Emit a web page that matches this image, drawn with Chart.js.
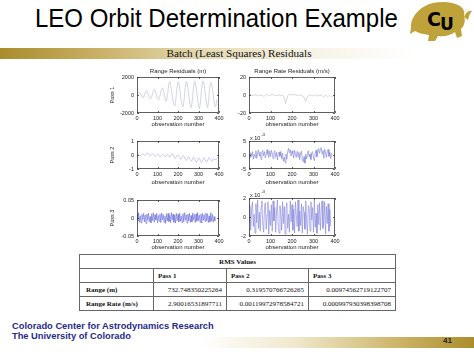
<!DOCTYPE html>
<html><head><meta charset="utf-8">
<script src="https://cdn.jsdelivr.net/npm/chart.js@4"></script>
<style>
body{margin:0;background:#fff;}
#slide{position:relative;width:474px;height:355px;overflow:hidden;background:#fff;font-family:"Liberation Sans",Arial,sans-serif;}
#title{position:absolute;left:35px;top:5px;font-size:24px;line-height:24px;white-space:nowrap;color:#000;transform-origin:0 0;transform:scaleY(1.1);}
#bar{position:absolute;left:0;top:48px;width:415px;height:11px;background:linear-gradient(to right,#a98c2c 0%,#c6ad62 22%,#e4d9b0 48%,#f6f2e4 74%,#ffffff 100%);}
#barText{position:absolute;left:0;width:474px;top:46px;text-align:center;font-family:"Liberation Serif","Times New Roman",serif;font-size:11.2px;line-height:14px;color:#111;padding-left:4px;box-sizing:border-box;}
#logo{position:absolute;left:405px;top:0;width:69px;height:45px;}
canvas{position:absolute;}
#rms{position:absolute;left:79px;top:254px;width:317px;border-collapse:collapse;font-family:"Liberation Serif","Times New Roman",serif;font-size:7px;color:#111;}
#rms td,#rms th{border:1px solid #666;height:13px;padding:0 4px;line-height:8px;white-space:nowrap;}
#rms td{text-align:right;font-weight:normal;}
#rms th{text-align:left;font-weight:bold;}
#rms th.c{text-align:center;}
#foot1,#foot2{position:absolute;left:12px;font-size:9.3px;font-weight:bold;line-height:10px;color:#1f2a8a;white-space:nowrap;}
#foot1{top:321px;}
#foot2{top:331px;}
#bar2{position:absolute;left:200px;top:337px;width:274px;height:11px;background:linear-gradient(to right,#ffffff 0%,#f0e8cc 35%,#cfb86e 70%,#ab8d2c 100%);}
#pnum{position:absolute;left:443px;top:336px;font-size:8px;font-weight:bold;line-height:9px;color:#222;}
</style></head><body>
<div id="slide">
  <div id="title">LEO Orbit Determination Example</div>
  <svg id="logo" viewBox="0 0 69 45">
    <path d="M6,24 C8,14 16,6 28,3 C38,1 48,2 55,6 C59,9 60,12 59,16 C61,21 59,26 56,29 L57,36 L52,38 L50,32 C46,35 40,37 33,36 L30,41 L23,41 L24,35 C18,34 13,33 10,31 L5,34 L6,28 Z" fill="#bfa23a"/>
    <path d="M59,17 C61,12 64,10 67,11 C65,13 64,16 63,20 Z" fill="#bfa23a"/>
    <text x="22" y="26" font-family="DejaVu Sans" font-weight="bold" font-size="19" fill="#000">C</text>
    <text x="35" y="30" font-family="DejaVu Sans" font-weight="bold" font-size="17" fill="#000">U</text>
  </svg>
  <div id="bar"></div>
  <div id="barText">Batch (Least Squares) Residuals</div>
  <canvas id="c1"></canvas><canvas id="c2"></canvas>
  <canvas id="c3"></canvas><canvas id="c4"></canvas>
  <canvas id="c5"></canvas><canvas id="c6"></canvas>
  <table id="rms"></table>
  <div id="foot1">Colorado Center for Astrodynamics Research</div>
  <div id="foot2">The University of Colorado</div>
  <div id="bar2"></div>
  <div id="pnum">41</div>
</div>
<script>
// ---- data ----
const obsTicks = [0, 100, 200, 300, 400];
const passLabels = ['Pass 1', 'Pass 2', 'Pass 3'];

// Pass 1 range residuals (m), every 5 observations
const pass1Range = [0,100,250,200,0,-250,-300,-100,250,500,400,100,-250,-450,-300,100,500,650,400,0,
  -400,-550,-300,200,650,800,400,-200,-700,-600,200,1300,1500,1000,200,-600,-1100,-1200,-400,800,
  1450,1200,400,-500,-1100,-1300,-500,800,1500,1300,500,-500,-1200,-1400,-600,700,1500,1400,600,-400,
  -1200,-1500,-700,700,1500,1500,700,-300,-1100,-1400,-400,900,1400,1100,300,-600,-1300,-1200,-500];
// Pass 1 range-rate residuals (m/s), every 5 observations
const pass1Rate = [0.3,0.5,0.2,-0.3,-0.5,-0.2,0.2,0.0,-0.6,-1.0,-0.5,0.0,-0.3,-1.2,-1.5,-0.6,0.2,0.4,0.0,-0.4,
  -0.2,0.3,0.5,0.1,-0.5,-0.8,-0.3,0.2,0.1,-0.4,-0.6,-0.3,-0.8,-3.5,-9.5,-5.5,-1.0,0.5,0.8,0.3,
  -0.2,0.2,0.6,0.3,-0.3,-0.6,-0.2,0.2,-0.2,-0.8,-1.0,-2.0,-5.0,-7.0,-3.0,-0.8,0.2,0.0,-0.5,-1.0,
  -0.6,0.1,0.3,-0.3,-1.0,-0.8,-0.2,0.0,-0.8,-2.0,-1.2,-0.4,-0.8,-1.8,-1.3,-0.6,-1.2,-2.0,-1.0];
// Pass 2 range residuals (m), every 5 observations
const pass2Range = [0.0,0.02,0.0,-0.05,-0.02,0.05,0.08,0.02,-0.05,0.05,0.15,0.1,-0.02,-0.05,0.05,0.1,0.05,-0.05,-0.1,0.0,
  0.05,0.02,-0.08,-0.1,0.0,0.05,-0.02,-0.12,-0.1,0.02,0.05,-0.05,-0.15,-0.05,0.1,0.05,-0.1,-0.25,-0.2,-0.05,
  0.0,-0.1,-0.25,-0.3,-0.15,-0.05,-0.1,-0.3,-0.4,-0.3,-0.1,-0.15,-0.35,-0.45,-0.35,-0.15,-0.2,-0.45,-0.55,-0.4,
  -0.2,-0.25,-0.45,-0.55,-0.4,-0.2,-0.25,-0.45,-0.5,-0.35,-0.2,-0.25,-0.4,-0.45,-0.3,-0.25,-0.35,-0.3,-0.3];
// Pass 2 range-rate residuals (x 10^-3 m/s), every 4 observations
const pass2Rate = [0.5,-1.0,0.8,-0.5,1.2,-1.5,0.3,-0.8,1.5,-1.2,0.6,1.8,-0.4,1.0,-1.6,0.9,1.6,-0.3,1.2,-1.0,
  0.4,1.9,0.2,-0.9,1.4,-0.6,1.7,0.5,-1.3,0.8,1.5,-0.7,0.9,-1.8,0.3,1.1,-0.5,1.3,-1.4,0.6,
  -2.2,-0.8,-2.8,0.4,-1.5,1.2,2.4,0.8,1.9,-0.4,1.5,0.6,-1.1,1.7,0.2,-0.9,1.3,-0.6,0.9,-1.7,
  0.8,1.4,-1.2,-2.5,-0.6,-2.9,0.3,-1.4,0.7,1.5,-0.8,0.4,-1.6,0.9,1.2,-1.0,-2.0,0.5,1.8,-0.7,
  1.1,2.3,0.6,1.9,2.7,0.4,1.6,-1.2,2.1,0.8,-0.9,1.4,2.0,-0.5,1.0,-1.3,0.6,0.2];
// Pass 3 range residuals (m), every 4 observations
const pass3Range = [0.012,-0.008,0.015,-0.012,0.006,-0.014,0.010,-0.004,0.013,-0.011,0.008,-0.015,0.011,-0.006,0.014,-0.010,0.004,-0.013,0.012,-0.007,
  0.015,-0.012,0.009,-0.005,0.013,-0.014,0.007,-0.009,0.011,-0.013,0.014,-0.006,0.010,-0.012,0.005,-0.015,0.012,-0.008,0.013,-0.010,
  0.007,-0.013,0.015,-0.005,0.011,-0.012,0.008,-0.014,0.013,-0.007,0.010,-0.011,0.014,-0.009,0.006,-0.013,0.012,-0.010,0.015,-0.006,
  0.009,-0.014,0.011,-0.008,0.013,-0.012,0.007,-0.011,0.014,-0.005,0.010,-0.013,0.012,-0.009,0.015,-0.007,0.008,-0.012,0.011,-0.014,
  0.013,-0.006,0.009,-0.010,0.014,-0.008,0.012,-0.013,0.006,-0.011,0.015,-0.009,0.010,-0.012,0.004,-0.008];
// Pass 3 range-rate residuals (x 10^-3 m/s), every 4 observations
const pass3Rate = [-0.5,1.2,-1.4,0.8,1.6,-1.0,0.3,-1.7,1.4,-0.6,1.8,-1.2,0.5,-1.5,1.1,1.7,-0.8,-1.6,0.9,1.5,
  -1.3,0.2,1.6,-1.8,0.7,-0.9,1.3,-1.5,1.7,-0.4,1.0,-1.6,0.6,1.8,-1.1,-1.7,1.2,0.4,-1.4,1.6,
  -0.7,1.1,-1.8,0.9,1.5,-1.2,0.3,-1.6,1.7,-0.5,1.3,-1.4,0.8,-1.7,1.6,0.2,-1.0,1.8,-1.5,0.6,
  -0.9,1.4,-1.7,1.1,0.5,-1.3,1.7,-0.6,-1.8,1.2,0.9,-1.5,1.6,-0.3,1.0,-1.6,1.8,-1.1,0.4,-1.7,
  1.3,-0.8,1.5,-1.4,0.7,1.7,-1.2,-0.5,1.6,-1.8,1.1,-0.7,1.4,-1.5,0.8,-1.0];

// RMS table
const rmsHeader = ['Pass 1', 'Pass 2', 'Pass 3'];
const rmsRowLabels = ['Range (m)', 'Range Rate (m/s)'];
const rmsRange = ['732.748350225264', '0.319570766726265', '0.00974562719122707'];
const rmsRate = ['2.90016531897711', '0.00119972978584721', '0.000997930398398708'];

// ---- table ----
(function(){
  const t = document.getElementById('rms');
  const cw = [74, 73, 82, 87];
  let h = '<colgroup>' + cw.map(w=>'<col style="width:'+w+'px">').join('') + '</colgroup>';
  h += '<tr><th class="c" colspan="4">RMS Values</th></tr>';
  h += '<tr><th></th>' + rmsHeader.map(s=>'<th>'+s+'</th>').join('') + '</tr>';
  [rmsRange, rmsRate].forEach((row,i)=>{
    h += '<tr><th style="padding-left:6px">'+rmsRowLabels[i]+'</th>' + row.map(s=>'<td>'+s+'</td>').join('') + '</tr>';
  });
  t.innerHTML = h;
})();

// ---- charts ----
const FONT = '"Liberation Sans", Arial, sans-serif';
const boxPlugin = {
  id: 'box',
  afterDatasetsDraw(chart, args, opts) {
    const {ctx, chartArea: a, scales} = chart;
    ctx.save();
    ctx.strokeStyle = '#3a3a3a';
    ctx.lineWidth = 0.8;
    ctx.strokeRect(a.left + 0.5, a.top + 0.5, a.right - a.left - 1, a.bottom - a.top - 1);
    ctx.beginPath();
    scales.x.ticks.forEach(t => {
      const px = Math.round(scales.x.getPixelForValue(t.value)) + 0.5;
      ctx.moveTo(px, a.bottom); ctx.lineTo(px, a.bottom - 2);
      ctx.moveTo(px, a.top); ctx.lineTo(px, a.top + 2);
    });
    scales.y.ticks.forEach(t => {
      const py = Math.round(scales.y.getPixelForValue(t.value)) + 0.5;
      ctx.moveTo(a.left, py); ctx.lineTo(a.left + 2, py);
      ctx.moveTo(a.right, py); ctx.lineTo(a.right - 2, py);
    });
    ctx.stroke();
    ctx.fillStyle = '#222';
    if (opts.title) {
      ctx.font = '6px ' + FONT;
      ctx.textAlign = 'center';
      ctx.textBaseline = 'middle';
      ctx.fillText(opts.title, (a.left + a.right) / 2, a.top - 6);
    }
    if (opts.exp) {
      ctx.font = '5.5px ' + FONT;
      ctx.textAlign = 'left';
      ctx.textBaseline = 'alphabetic';
      ctx.fillText('x 10', a.left + 1, a.top - 1.5);
      ctx.font = '4px ' + FONT;
      ctx.fillText('-3', a.left + 12.5, a.top - 5);
    }
    ctx.restore();
  }
};

function makeChart(id, rect, area, cfg) {
  const cv = document.getElementById(id);
  cv.width = rect.w; cv.height = rect.h;
  cv.style.left = rect.x + 'px'; cv.style.top = rect.y + 'px';
  cv.style.width = rect.w + 'px'; cv.style.height = rect.h + 'px';
  const padTop = area.y0 - rect.y, padRight = rect.x + rect.w - area.x1;
  const yW = area.x0 - rect.x, xH = rect.y + rect.h - area.y1;
  new Chart(cv, {
    type: 'line',
    data: { datasets: [{
      data: cfg.values.map((v, i) => ({ x: i * cfg.step, y: v })),
      borderColor: cfg.color, borderWidth: 0.7, pointRadius: 0, tension: 0, fill: false
    }]},
    options: {
      responsive: false, animation: false, devicePixelRatio: 1,
      layout: { padding: { top: padTop, right: padRight, left: 0, bottom: 0 } },
      plugins: { legend: { display: false }, tooltip: { enabled: false },
                 box: { title: cfg.title, exp: cfg.exp } },
      scales: {
        x: {
          type: 'linear', min: obsTicks[0], max: obsTicks[obsTicks.length - 1],
          afterFit: s => { s.height = xH; },
          afterBuildTicks: s => { s.ticks = obsTicks.map(v => ({ value: v })); },
          grid: { display: false, drawTicks: false }, border: { display: false },
          ticks: { font: { size: 5.5, family: FONT }, color: '#222', padding: 2, maxRotation: 0, autoSkip: false, callback: v => String(v) },
          title: { display: true, text: 'observation number', font: { size: 6, family: FONT }, color: '#222', padding: { top: 0, bottom: 0.5 } }
        },
        y: {
          min: -cfg.max, max: cfg.max,
          afterFit: s => { s.width = yW; },
          afterBuildTicks: s => { s.ticks = [-cfg.max, 0, cfg.max].map(v => ({ value: v })); },
          grid: { display: false, drawTicks: false }, border: { display: false },
          ticks: { font: { size: 5.5, family: FONT }, color: '#222', padding: 3, callback: v => String(v) },
          title: cfg.ylabel ? { display: true, text: cfg.ylabel, font: { size: 5.5, family: FONT }, color: '#222', padding: { top: 4.5, bottom: 0 } } : { display: false }
        }
      }
    },
    plugins: [boxPlugin]
  });
}

const L = { x: 105, w: 125 }, R = { x: 232, w: 110 };
const LA = { x0: 137, x1: 219 }, RA = { x0: 249, x1: 335 };

makeChart('c1', { x: L.x, w: L.w, y: 64, h: 64 }, { x0: LA.x0, x1: LA.x1, y0: 77, y1: 113 },
  { values: pass1Range, step: 5, max: 2000, color: '#c2c2dc', title: 'Range Residuals (m)', ylabel: passLabels[0] });
makeChart('c2', { x: R.x, w: R.w, y: 64, h: 64 }, { x0: RA.x0, x1: RA.x1, y0: 77, y1: 113 },
  { values: pass1Rate, step: 5, max: 20, color: '#c4c4d0', title: 'Range Rate Residuals (m/s)' });
makeChart('c3', { x: L.x, w: L.w, y: 130, h: 56 }, { x0: LA.x0, x1: LA.x1, y0: 141, y1: 169 },
  { values: pass2Range, step: 5, max: 1, color: '#b8b8e4', ylabel: passLabels[1] });
makeChart('c4', { x: R.x, w: R.w, y: 130, h: 56 }, { x0: RA.x0, x1: RA.x1, y0: 141, y1: 169 },
  { values: pass2Rate, step: 4, max: 5, color: '#8a8adc', exp: true });
makeChart('c5', { x: L.x, w: L.w, y: 188, h: 63 }, { x0: LA.x0, x1: LA.x1, y0: 200, y1: 236 },
  { values: pass3Range, step: 4, max: 0.05, color: '#7878dc', ylabel: passLabels[2] });
makeChart('c6', { x: R.x, w: R.w, y: 188, h: 63 }, { x0: RA.x0, x1: RA.x1, y0: 198, y1: 236 },
  { values: pass3Rate, step: 4, max: 2, color: '#8e8ee0', exp: true });
</script>
</body></html>
